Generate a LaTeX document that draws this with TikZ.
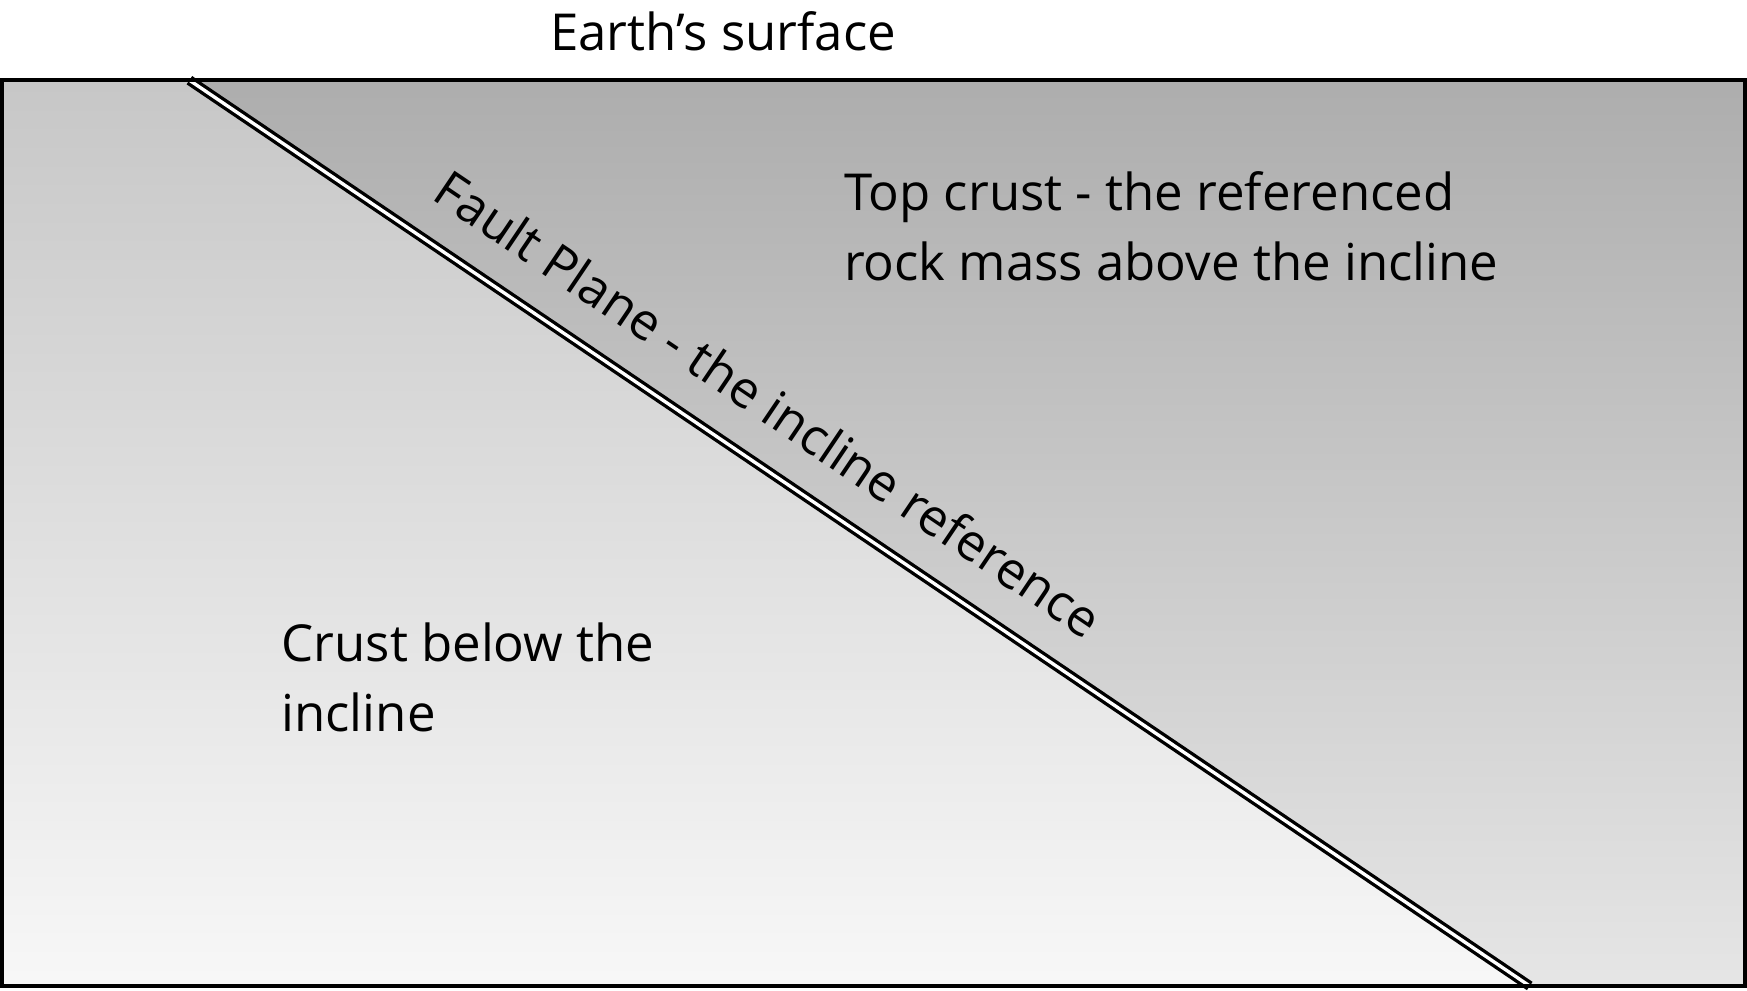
\documentclass[tikz,border=0pt]{standalone}
\usepackage{fontspec}
\setmainfont{Open Sans}
\begin{document}
\begin{tikzpicture}[x=0.01cm,y=-0.01cm,
  lbl/.style={font=\fontsize{13}{18}\selectfont,align=left,inner sep=0pt}]
\useasboundingbox (0,0) rectangle (1568,889);
\fill[top color=gray!44,bottom color=gray!6] (2,72) rectangle (1566,885);
\fill[top color=gray!64,bottom color=gray!20] (168,72) -- (1566,72) -- (1566,885) -- (1375,885) -- cycle;
\coordinate (ft) at (170,72);
\coordinate (fb) at (1373,885);
\draw[line width=0.03cm,double=white,double distance=0.03cm] (ft) -- (fb);
\node[draw,line width=0.035cm,minimum width=15.64cm,minimum height=8.13cm,inner sep=0pt] (box) at (784,478.5) {};
\node[lbl] (earth) at (649,28) {Earth’s surface};
\node[lbl,anchor=north west] (top) at (757,153) {Top crust - the referenced\\rock mass above the incline};
\node[lbl,anchor=north west] (below) at (252,558) {Crust below the\\incline};
\node[lbl,rotate=-34] (fault) at (690,362) {Fault Plane - the incline reference};
\end{tikzpicture}
\end{document}
